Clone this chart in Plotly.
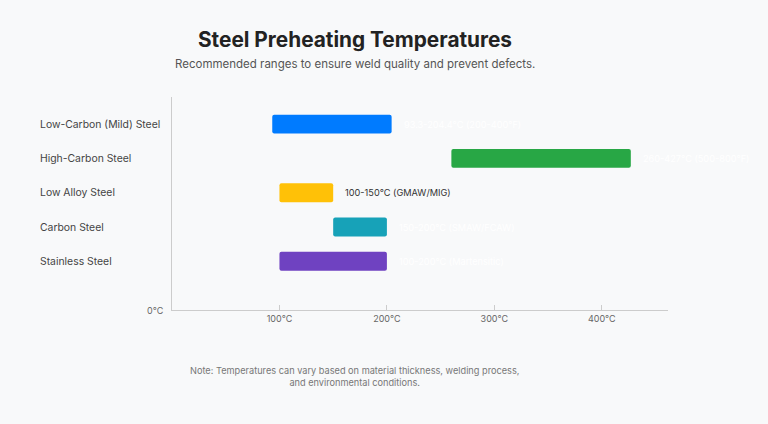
import plotly.graph_objects as go

categories = ["Low-Carbon (Mild) Steel", "High-Carbon Steel", "Low Alloy Steel", "Carbon Steel", "Stainless Steel"]
start_c = [93.3, 260, 100, 150, 100]
end_c = [204.4, 427, 150, 200, 200]
labels = ["93.3-204.4°C (200-400°F)", "260-427°C (500-800°F)", "100-150°C (GMAW/MIG)",
          "150-200°C (SMAW/FCAW)", "100-200°C (Martensitic)"]
colors = ["#007bff", "#28a745", "#ffc107", "#17a2b8", "#6f42c1"]
label_colors = ["#ffffff", "#ffffff", "#333333", "#ffffff", "#ffffff"]
tick_vals = [100, 200, 300, 400]
tick_text = ["100°C", "200°C", "300°C", "400°C"]

FONT = "Inter, Roboto, sans-serif"
BG = "#f8f9fa"

# plot area in pixels
PL, PR, PT, PB = 172, 668, 97, 310


def px_x(px):
    return (px - PL) / (PR - PL)


def px_y(py):
    return (PB - py) / (PB - PT)


fig = go.Figure()
fig.add_trace(go.Bar(
    y=list(range(len(categories))),
    x=[e - s for s, e in zip(start_c, end_c)],
    base=start_c,
    orientation="h",
    marker=dict(color=colors, line=dict(width=0), cornerradius=2),
    width=0.55,
    hoverinfo="skip",
))

annotations = []
for i, (e, lab, lc) in enumerate(zip(end_c, labels, label_colors)):
    annotations.append(dict(x=e, y=i, xref="x", yref="y", text=lab, showarrow=False,
                            xanchor="left", xshift=10, font=dict(family=FONT, size=9.2, color=lc)))
for i, cat in enumerate(categories):
    annotations.append(dict(x=px_x(38), y=i, xref="paper", yref="y", text=cat, showarrow=False,
                            xanchor="left", font=dict(family=FONT, size=10.4, color="#444")))
annotations.append(dict(x=0, y=5.42, xref="x", yref="y", text="0°C", showarrow=False,
                        xanchor="right", xshift=-6, font=dict(family=FONT, size=9, color="#666")))
annotations.append(dict(x=px_x(355), y=px_y(39), xref="paper", yref="paper",
                        text="<b>Steel Preheating Temperatures</b>", showarrow=False,
                        xanchor="center", yanchor="middle", font=dict(family=FONT, size=20.8, color="#222")))
annotations.append(dict(x=px_x(355), y=px_y(64), xref="paper", yref="paper",
                        text="Recommended ranges to ensure weld quality and prevent defects.", showarrow=False,
                        xanchor="center", yanchor="middle", font=dict(family=FONT, size=11.5, color="#555")))
annotations.append(dict(x=px_x(354), y=px_y(376), xref="paper", yref="paper",
                        text="Note: Temperatures can vary based on material thickness, welding process,<br>and environmental conditions.",
                        showarrow=False, xanchor="center", yanchor="middle",
                        font=dict(family=FONT, size=9.2, color="#777")))

fig.update_layout(
    width=768, height=424,
    margin=dict(l=PL, r=768 - PR, t=PT, b=424 - PB),
    paper_bgcolor=BG, plot_bgcolor=BG,
    showlegend=False,
    annotations=annotations,
    xaxis=dict(range=[0, 461.6], tickvals=tick_vals, ticktext=tick_text, showgrid=False, zeroline=False,
               showline=True, linecolor="#cccccc", linewidth=1, ticks="inside", ticklen=5, tickcolor="#cccccc",
               tickfont=dict(family=FONT, size=9, color="#666")),
    yaxis=dict(range=[5.42, -0.79], showticklabels=False, showgrid=False, zeroline=False,
               showline=True, linecolor="#cccccc", linewidth=1, ticks=""),
)

fig.write_html("out.html")
